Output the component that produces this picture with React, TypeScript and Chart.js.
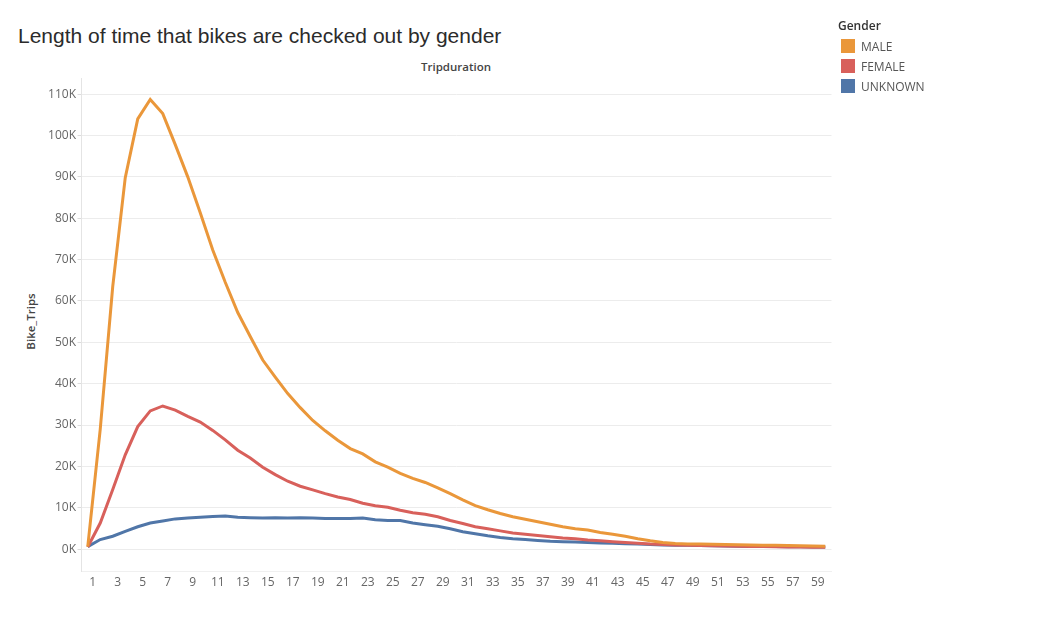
import React, { useEffect, useRef } from 'react';
import { Chart, registerables } from 'chart.js';

Chart.register(...registerables);

// ── data (trip duration in minutes → bike trips) ─────────────────
const DURATIONS = [
  '1', '2', '3', '4', '5', '6', '7', '8', '9', '10',
  '11', '12', '13', '14', '15', '16', '17', '18', '19', '20',
  '21', '22', '23', '24', '25', '26', '27', '28', '29', '30',
  '31', '32', '33', '34', '35', '36', '37', '38', '39', '40',
  '41', '42', '43', '44', '45', '46', '47', '48', '49', '50',
  '51', '52', '53', '54', '55', '56', '57', '58', '59', '60',
];

const MALE = [
  600, 29000, 63500, 89800, 104000, 108700, 105300, 97800, 90000, 81300,
  72300, 64500, 57200, 51400, 45700, 41600, 37600, 34200, 31100, 28600,
  26300, 24300, 23000, 21100, 19800, 18300, 17100, 16100, 14800, 13400,
  11900, 10500, 9500, 8600, 7800, 7200, 6600, 6000, 5400, 4900,
  4600, 4000, 3600, 3100, 2500, 2000, 1600, 1350, 1250, 1200,
  1150, 1100, 1050, 1000, 950, 900, 850, 800, 750, 700,
];

const FEMALE = [
  500, 6300, 14400, 22800, 29600, 33400, 34600, 33600, 32100, 30700,
  28700, 26400, 23900, 22000, 19800, 18000, 16400, 15200, 14300, 13400,
  12600, 12000, 11100, 10500, 10100, 9400, 8800, 8400, 7800, 6900,
  6200, 5400, 4900, 4400, 3900, 3600, 3300, 3000, 2700, 2500,
  2200, 2000, 1800, 1600, 1400, 1200, 1100, 1000, 900, 850,
  800, 750, 700, 650, 600, 550, 500, 500, 450, 450,
];

const UNKNOWN = [
  600, 2300, 3100, 4300, 5400, 6300, 6800, 7300, 7500, 7700,
  7900, 8000, 7700, 7600, 7500, 7600, 7500, 7600, 7500, 7400,
  7400, 7400, 7500, 7100, 6900, 6900, 6300, 5900, 5500, 4900,
  4200, 3700, 3200, 2800, 2500, 2300, 2100, 1900, 1800, 1700,
  1600, 1500, 1400, 1300, 1200, 1100, 1000, 950, 900, 850,
  800, 750, 700, 650, 600, 600, 550, 550, 500, 500,
];

const Y_TICKS = [0, 10000, 20000, 30000, 40000, 50000, 60000, 70000, 80000, 90000, 100000, 110000];

const SERIES = [
  { label: 'MALE', data: MALE, color: '#EA973A' },
  { label: 'FEMALE', data: FEMALE, color: '#D8605B' },
  { label: 'UNKNOWN', data: UNKNOWN, color: '#5076A8' },
];

const TICK = '#666';
const GRID = '#ececec';
const TICK_FONT = { family: 'Open Sans', size: 12 };

export default function App() {
  const ref = useRef<HTMLCanvasElement>(null);
  const chartRef = useRef<Chart | null>(null);

  useEffect(() => {
    if (!ref.current) return;
    chartRef.current?.destroy();
    chartRef.current = new Chart(ref.current, {
      type: 'line',
      data: {
        labels: DURATIONS,
        datasets: SERIES.map(s => ({
          label: s.label,
          data: s.data,
          borderColor: s.color,
          backgroundColor: s.color,
          borderWidth: 3,
          pointRadius: 0,
          tension: 0,
        })),
      },
      options: {
        responsive: false,
        animation: false,
        devicePixelRatio: 1,
        layout: { padding: { left: 0, top: 78, right: 216.5, bottom: 0 } },
        plugins: { legend: { display: false }, tooltip: { enabled: false } },
        scales: {
          x: {
            offset: true,
            grid: { display: false },
            border: { color: '#f0f0f0' },
            ticks: {
              color: TICK, font: TICK_FONT, autoSkip: false, maxRotation: 0,
              padding: -4, labelOffset: 5,
              callback: (_v, i) => (i % 2 === 0 ? DURATIONS[i] : ''),
            },
            afterFit: (s: any) => { s.height = 50; },
          },
          y: {
            min: -5300,
            max: 113900,
            grid: { color: GRID, tickLength: 4, tickColor: '#dcdcdc' },
            border: { color: '#e4e4e4' },
            ticks: {
              color: TICK, font: TICK_FONT, padding: 1.5,
              callback: v => `${Number(v) / 1000}K`,
            },
            afterBuildTicks: (s: any) => { s.ticks = Y_TICKS.map(v => ({ value: v })); },
            afterFit: (s: any) => { s.width = 81.5; },
          },
        },
      },
    });
    return () => chartRef.current?.destroy();
  }, []);

  return (
    <div style={{ position: 'fixed', left: 0, top: 0, width: 1048, height: 621, background: '#fff', fontFamily: 'Open Sans' }}>
      <div style={{ position: 'absolute', left: 18, top: 24, fontFamily: 'Liberation Sans', fontSize: 21, color: '#2b2b2b', whiteSpace: 'nowrap' }}>
        Length of time that bikes are checked out by gender
      </div>
      <div style={{ position: 'absolute', left: 356, width: 200, top: 59, textAlign: 'center', fontSize: 11.5, fontWeight: 600, color: '#444' }}>
        Tripduration
      </div>
      <div style={{ position: 'absolute', left: 30 - 60, top: 323 - 9, width: 120, textAlign: 'center', transform: 'rotate(-90deg)', fontSize: 11.5, fontWeight: 600, color: '#444' }}>
        Bike_Trips
      </div>
      <canvas ref={ref} width={1048} height={621} style={{ position: 'absolute', left: 0, top: 0, width: 1048, height: 621 }} />
      <div style={{ position: 'absolute', left: 838, top: 17, fontSize: 12, fontWeight: 600, color: '#333' }}>Gender</div>
      {SERIES.map((s, i) => (
        <div key={s.label} style={{ position: 'absolute', left: 841, top: 39 + i * 20, display: 'flex', alignItems: 'center', height: 14 }}>
          <div style={{ width: 14, height: 14, background: s.color }} />
          <span style={{ marginLeft: 6, fontSize: 12, color: '#555' }}>{s.label}</span>
        </div>
      ))}
    </div>
  );
}
